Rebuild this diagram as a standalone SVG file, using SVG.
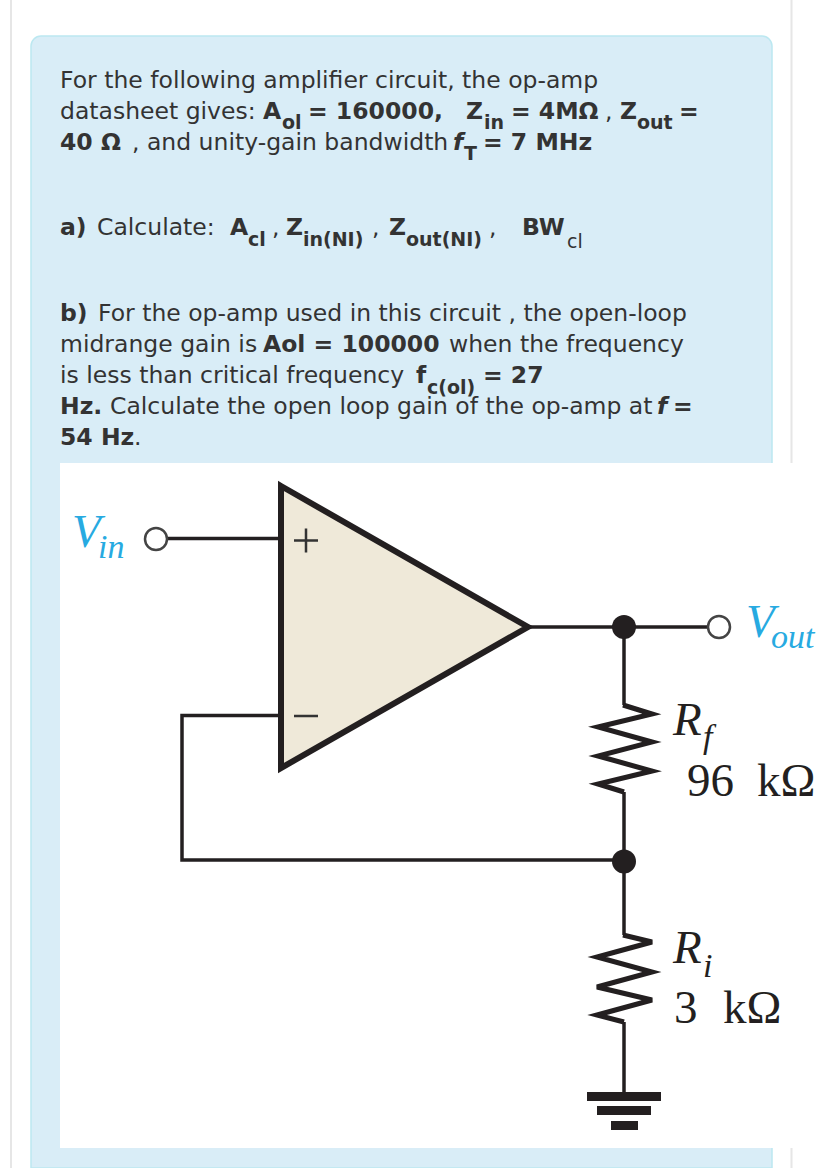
<svg xmlns="http://www.w3.org/2000/svg" width="818" height="1168" viewBox="0 0 818 1168">
<style>
.t{font-family:"DejaVu Sans",Verdana,sans-serif;font-size:23.5px;fill:#333}
.b{font-weight:bold}
.i{font-style:italic}
.s{font-size:19px}
.w{fill:none;stroke:#231f20;stroke-width:3.5;stroke-linejoin:miter}
.z{fill:none;stroke:#231f20;stroke-width:5;stroke-linejoin:miter}
.j{fill:#231f20}
.o{fill:#fff;stroke:#444;stroke-width:2.5}
.m{font-family:"Liberation Serif","Times New Roman",serif;font-size:47px;fill:#231f20}
.k{font-size:34px}
.v{fill:#27aae1;font-style:italic}
</style>
<rect width="818" height="1168" fill="#fff"/>
<rect x="10" y="0" width="2" height="1168" fill="#e6e6e6"/>
<rect x="790.500" y="0" width="2" height="1168" fill="#e6e6e6"/>
<path d="M31 1168V46a10 10 0 0 1 10-10H762a10 10 0 0 1 10 10V1168Z" fill="#d9edf7" stroke="#bce8f1" stroke-width="1.500"/>
<g id="text">
<text class="t" x="60" y="88">For the following amplifier circuit, the op-amp</text>
<text class="t" x="60" y="119">datasheet gives:</text>
<text class="t b" x="263" y="119">A<tspan class="s" x="282" y="129">ol</tspan></text>
<text class="t b" x="308" y="119">= 160000,</text>
<text class="t b" x="466" y="119">Z<tspan class="s" x="484" y="129">in</tspan></text>
<text class="t b" x="511" y="119">= 4MΩ</text><text class="t" x="605" y="119">,</text>
<text class="t b" x="620" y="119">Z<tspan class="s" x="637" y="129">out</tspan></text>
<text class="t b" x="679" y="119">=</text>
<text class="t b" x="60" y="150">40 Ω</text><text class="t" x="132" y="150">, and unity-gain bandwidth</text>
<text class="t b i" x="453" y="150">f<tspan class="s" style="font-style:normal" x="464" y="160">T</tspan></text>
<text class="t b" x="483" y="150">= 7 MHz</text>
<text class="t b" x="60" y="235">a)</text><text class="t" x="97" y="235">Calculate:</text>
<text class="t b" x="230" y="235">A<tspan class="s" x="248" y="246">cl</tspan></text><text class="t" x="272" y="235">,</text>
<text class="t b" x="286" y="235">Z<tspan class="s" x="303" y="246">in(NI)</tspan></text><text class="t" x="372" y="235">,</text>
<text class="t b" x="389" y="235">Z<tspan class="s" x="406" y="246">out(NI)</tspan></text><text class="t" x="489" y="235">,</text>
<text class="t b" x="522" y="235">BW</text><text class="t s" x="567" y="248">cl</text>
<text class="t b" x="60" y="321">b)</text><text class="t" x="98" y="321">For the op-amp used in this circuit , the open-loop</text>
<text class="t" x="60" y="352">midrange gain is</text>
<text class="t b" x="263" y="352">Aol = 100000</text>
<text class="t" x="449" y="352">when the frequency</text>
<text class="t" x="60" y="383">is less than critical frequency</text>
<text class="t b" x="416" y="383">f<tspan class="s" x="427" y="394">c(ol)</tspan></text>
<text class="t b" x="483" y="383">= 27</text>
<text class="t b" x="60" y="414">Hz.</text><text class="t" x="110" y="414">Calculate the open loop gain of the op-amp at</text>
<text class="t b i" x="657" y="414">f</text><text class="t b" x="673" y="414">=</text>
<text class="t b" x="60" y="445">54 Hz</text><text class="t" x="134" y="445">.</text>
</g>
<rect x="60" y="463" width="733" height="685" fill="#fff"/>
<g id="connectors">
<path class="w" d="M167 538.500H281"/>
<path class="w" d="M281 715.500H182V860H624"/>
<path class="w" d="M527 627H708"/>
<path class="w" d="M624 627V705"/>
<path class="z" d="M623 705L652 714L598 727L652 742L598 756L652 771L598 784L624 792"/>
<path class="w" d="M624 792V935"/>
<path class="z" d="M623 935L652 942L597 957L652 972L597 987L652 1000L597 1015L624 1022"/>
<path class="w" d="M624 1022V1092"/>
</g>
<g id="opamp">
<path d="M281 486L528 627L281 768Z" fill="#efe9d9" stroke="#231f20" stroke-width="6"/>
<path d="M294 540.500H318M306 528.500V552.500M294 716H318" fill="none" stroke="#333" stroke-width="2.500"/>
</g>
<g id="vin"><circle class="o" cx="156" cy="539" r="11"/>
<text class="m v" x="72" y="547">V</text><text class="m v k" x="98" y="558">in</text></g>
<g id="vout"><circle class="o" cx="719" cy="627" r="11"/>
<text class="m v" x="746" y="637">V</text><text class="m v k" x="771" y="648">out</text></g>
<g id="junction-top"><circle class="j" cx="624" cy="627" r="12"/></g>
<g id="junction-mid"><circle class="j" cx="624" cy="861.500" r="12"/></g>
<g id="rf"><text class="m i" x="673" y="735">R</text><text class="m i k" x="703" y="748">f</text>
<text class="m" x="687" y="796">96<tspan x="757">kΩ</tspan></text></g>
<g id="ri"><text class="m i" x="673" y="963">R</text><text class="m i k" x="703" y="977">i</text>
<text class="m" x="674" y="1023">3<tspan x="723">kΩ</tspan></text></g>
<g id="ground" fill="#231f20"><rect x="587" y="1092" width="74" height="9"/><rect x="597" y="1106" width="54" height="9"/><rect x="611" y="1121" width="27" height="9"/></g>
</svg>
